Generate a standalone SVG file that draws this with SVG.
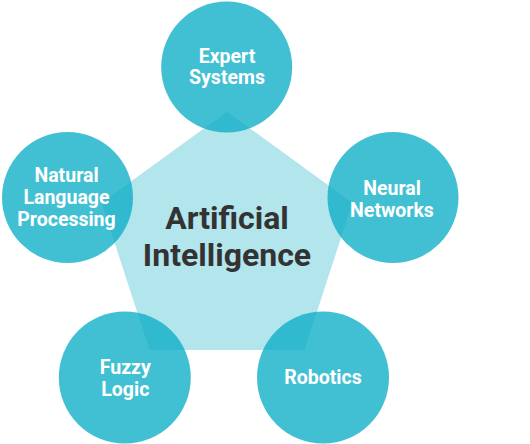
<svg xmlns="http://www.w3.org/2000/svg" width="530" height="444" viewBox="0 0 530 444">
<style>
.bub{fill:rgb(13,174,199);fill-opacity:0.78}
.lbl{font-family:Roboto,"Liberation Sans",sans-serif;font-weight:700;font-size:19.5px;fill:#ffffff;text-anchor:middle}
.core{font-family:Roboto,"Liberation Sans",sans-serif;font-weight:700;font-size:32px;fill:#333333;text-anchor:middle}
</style>
<rect width="530" height="444" fill="#ffffff"/>
<g id="connectors"></g>
<g id="ai">
<polygon points="227,111.7 352.4,202.8 304.5,350 149.5,350 101.6,202.8" fill="#b2e5ec"/>
<text class="core" x="227" y="228.5">Artificial</text>
<text class="core" x="227" y="266">Intelligence</text>
</g>
<g id="expert">
<circle class="bub" cx="226.7" cy="67" r="65.5"/>
<text class="lbl" x="227" y="62.7">Expert</text>
<text class="lbl" x="227" y="84">Systems</text>
</g>
<g id="nlp">
<circle class="bub" cx="67.5" cy="197.5" r="65.5"/>
<text class="lbl" x="66.5" y="181.7">Natural</text>
<text class="lbl" x="66.5" y="203.7">Language</text>
<text class="lbl" x="66.5" y="226">Processing</text>
</g>
<g id="neural">
<circle class="bub" cx="393" cy="197.5" r="65.5"/>
<text class="lbl" x="392" y="195">Neural</text>
<text class="lbl" x="392" y="217">Networks</text>
</g>
<g id="fuzzy">
<circle class="bub" cx="124.8" cy="377.5" r="66"/>
<text class="lbl" x="125.3" y="374">Fuzzy</text>
<text class="lbl" x="125.3" y="396">Logic</text>
</g>
<g id="robotics">
<circle class="bub" cx="323" cy="377.5" r="66"/>
<text class="lbl" x="323" y="384">Robotics</text>
</g>
</svg>
